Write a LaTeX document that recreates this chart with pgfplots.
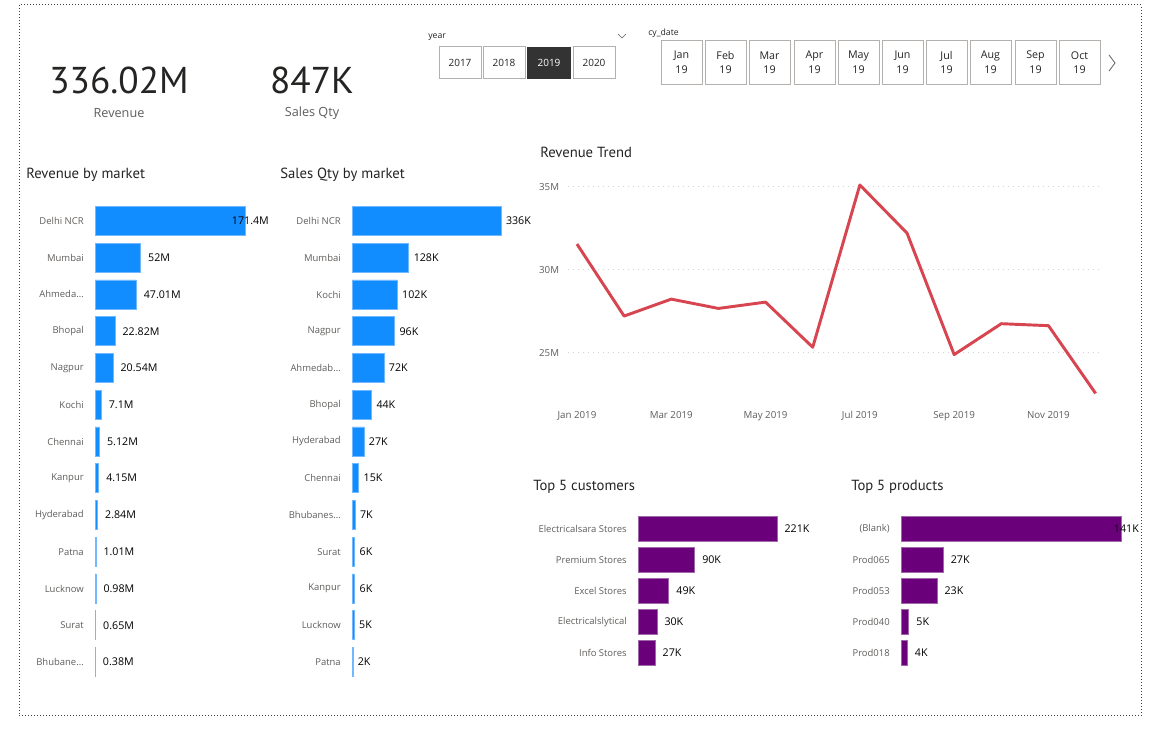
\documentclass[border=0pt]{standalone}
\usepackage{pgfplots}
\pgfplotsset{compat=1.18}
\usepackage{fontspec}
\setmainfont{Open Sans}
\newfontfamily\din{PT Sans}

\definecolor{pbblue}{HTML}{118DFF}
\definecolor{pbblueedge}{HTML}{70B8FF}
\definecolor{pbpurple}{HTML}{6B007B}
\definecolor{pbpurpleedge}{HTML}{A066AA}
\definecolor{pbred}{HTML}{D64550}
\definecolor{lblgray}{HTML}{605E5C}
\definecolor{titleblack}{HTML}{252423}
\definecolor{slicerborder}{HTML}{B3B0AD}

\pgfplotsset{
  hbars/.style={
    xbar, scale only axis, anchor=north west,
    y dir=reverse, xmin=0,
    axis line style={draw=none}, tick style={draw=none},
    xtick=\empty,
    yticklabel style={font=\fontsize{7.1}{9}\selectfont, text=lblgray, inner sep=0pt},
    yticklabel shift=4pt,
    point meta=explicit symbolic,
    every node near coord/.append style={font=\fontsize{8}{9}\selectfont, text=black,
      anchor=west, inner sep=0pt, xshift=5.5pt},
  },
  barsty/.style={fill=#1, draw=#1edge, line width=0.5pt, bar shift=0pt},
}

\begin{document}
\begin{tikzpicture}
\path[use as bounding box] (0,0) rectangle (864pt,547.5pt);
\fill[white] (0,0) rectangle (864pt,547.5pt);

% page furniture, in reference pixels (y down)
\begin{scope}[x=0.75pt, y=-0.75pt, yshift=547.5pt]
\draw[black!75, line width=0.75pt, dash pattern=on 0.75pt off 1.5pt] (19,5) rectangle (1141,716);

% KPI cards
\node[font=\din\fontsize{28}{30}\selectfont, text=titleblack] at (119,80) {336.02M};
\node[font=\fontsize{9.5}{11}\selectfont, text=lblgray] at (119,113) {Revenue};
\node[font=\din\fontsize{28}{30}\selectfont, text=titleblack] at (312,80) {847K};
\node[font=\fontsize{9.5}{11}\selectfont, text=lblgray] at (312,113) {Sales Qty};

% year slicer
\node[anchor=west, inner sep=0pt, font=\fontsize{6.5}{8}\selectfont, text=titleblack] at (428,37) {year};
\draw[lblgray, line width=0.5pt] (618,34) -- (622,38) -- (626,34);
\foreach \xa/\xb/\t in {439/481/2017, 483/525/2018, 573/615/2020} {
  \draw[slicerborder, line width=0.75pt] (\xa,47) rectangle (\xb,79);
  \node[font=\fontsize{7.5}{9}\selectfont, text=titleblack] at ({(\xa+\xb)/2},63) {\t};
}
\fill[black!80] (527,47) rectangle (571,79);
\node[font=\fontsize{7.5}{9}\selectfont, text=white] at (549,63) {2019};

% month slicer
\node[anchor=west, inner sep=0pt, font=\fontsize{6.5}{8}\selectfont, text=titleblack] at (648,33) {cy\_date};
\foreach \xa/\m in {661/Jan, 705/Feb, 749/Mar, 794/Apr, 838/May, 882/Jun, 926/Jul, 970/Aug, 1015/Sep, 1059/Oct} {
  \draw[slicerborder, line width=0.75pt] (\xa,41) rectangle ({\xa+41},85);
  \node[font=\fontsize{8}{9}\selectfont, text=titleblack] at ({\xa+20.5},56) {\m};
  \node[font=\fontsize{8}{9}\selectfont, text=titleblack] at ({\xa+20.5},70) {19};
}
\draw[lblgray, line width=0.6pt] (1109,55) -- (1115,63) -- (1109,71);

% titles
\node[anchor=west, inner sep=0pt, font=\din\fontsize{11}{13}\selectfont, text=titleblack] at (26,175) {Revenue by market};
\node[anchor=west, inner sep=0pt, font=\din\fontsize{11}{13}\selectfont, text=titleblack] at (280,175) {Sales Qty by market};
\node[anchor=west, inner sep=0pt, font=\din\fontsize{11}{13}\selectfont, text=titleblack] at (540,152) {Revenue Trend};
\node[anchor=west, inner sep=0pt, font=\din\fontsize{11}{13}\selectfont, text=titleblack] at (533,487) {Top 5 customers};
\node[anchor=west, inner sep=0pt, font=\din\fontsize{11}{13}\selectfont, text=titleblack] at (851,487) {Top 5 products};
\end{scope}

% Revenue by market
\begin{axis}[hbars, at={(71.25pt,395.55pt)}, width=131.25pt, height=358.3pt,
  xmax=200, ymin=-0.5, ymax=12.5, bar width=0.79,
  ytick={0,1,2,3,4,5,6,7,8,9,10,11,12},
  yticklabels={{Delhi NCR}, {Mumbai}, {Ahmeda…}, {Bhopal}, {Nagpur}, {Kochi}, {Chennai}, {Kanpur}, {Hyderabad}, {Patna}, {Lucknow}, {Surat}, {Bhubane…}},
  clip=false]
  \addplot[barsty=pbblue, nodes near coords,
    every node near coord/.append style={xshift=-15.5pt}] coordinates {
    (171.4,0) [171.4M]
  };
  \addplot[barsty=pbblue, nodes near coords] coordinates {
    (52,1) [52M] (47.01,2) [47.01M] (22.82,3) [22.82M] (20.54,4) [20.54M]
    (7.1,5) [7.1M] (5.12,6) [5.12M] (4.15,7) [4.15M] (2.84,8) [2.84M]
    (1.01,9) [1.01M] (0.98,10) [0.98M] (0.65,11) [0.65M] (0.38,12) [0.38M]
  };
\end{axis}

% Sales Qty by market
\begin{axis}[hbars, at={(264pt,395.55pt)}, width=133.05pt, height=358.3pt,
  xmax=400, ymin=-0.5, ymax=12.5, bar width=0.79,
  ytick={0,1,2,3,4,5,6,7,8,9,10,11,12},
  yticklabels={{Delhi NCR}, {Mumbai}, {Kochi}, {Nagpur}, {Ahmedab…}, {Bhopal}, {Hyderabad}, {Chennai}, {Bhubanes…}, {Surat}, {Kanpur}, {Lucknow}, {Patna}},
  clip=false]
  \addplot[barsty=pbblue, nodes near coords,
    every node near coord/.append style={xshift=-2pt}] coordinates {
    (336,0) [336K] (128,1) [128K] (102,2) [102K] (96,3) [96K] (72,4) [72K]
    (44,5) [44K] (27,6) [27K] (15,7) [15K] (7,8) [7K] (6,9) [6K]
    (6,10) [6K] (5,11) [5K] (2,12) [2K]
  };
\end{axis}

% Revenue Trend
\begin{axis}[scale only axis, anchor=north west, at={(426pt,414.75pt)},
  width=400.3pt, height=164.3pt,
  xmin=0.81, xmax=12.13, ymin=22.4, ymax=35.6,
  axis line style={draw=none}, tick style={draw=none},
  xtick={1,3,5,7,9,11},
  xticklabels={Jan 2019, Mar 2019, May 2019, Jul 2019, Sep 2019, Nov 2019},
  ytick={25,30,35}, yticklabels={25M,30M,35M},
  ymajorgrids, grid style={gray!35, line width=0.75pt, dash pattern=on 0.75pt off 3pt},
  xticklabel style={font=\fontsize{7.3}{9}\selectfont, text=lblgray, inner sep=0pt},
  yticklabel style={font=\fontsize{7.3}{9}\selectfont, text=lblgray, inner sep=0pt},
  xticklabel shift=11pt, yticklabel shift=6.5pt,
  clip=false]
  \addplot[pbred, line width=2.2pt, line join=round, mark=none] coordinates {
    (1,31.56) (2,27.22) (3,28.24) (4,27.68) (5,28.06) (6,25.34)
    (7,35.12) (8,32.22) (9,24.90) (10,26.76) (11,26.64) (12,22.56)
  };
\end{axis}

% Top 5 customers
\begin{axis}[hbars, at={(478.5pt,162.375pt)}, width=117.9pt, height=116.25pt,
  xmax=250, ymin=-0.5, ymax=4.5, bar width=0.8,
  ytick={0,1,2,3,4},
  yticklabels={{Electricalsara Stores}, {Premium Stores}, {Excel Stores}, {Electricalslytical}, {Info Stores}},
  clip=false]
  \addplot[barsty=pbpurple, nodes near coords] coordinates {
    (221,0) [221K] (90,1) [90K] (49,2) [49K] (30,3) [30K] (27,4) [27K]
  };
\end{axis}

% Top 5 products
\begin{axis}[hbars, at={(675.75pt,162.375pt)}, width=175.5pt, height=116.25pt,
  xmax=150, ymin=-0.5, ymax=4.5, bar width=0.8,
  ytick={0,1,2,3,4},
  yticklabels={{(Blank)}, {Prod065}, {Prod053}, {Prod040}, {Prod018}},
  clip=false]
  \addplot[barsty=pbpurple, nodes near coords,
    every node near coord/.append style={xshift=-11pt}] coordinates {
    (141,0) [141K]
  };
  \addplot[barsty=pbpurple, nodes near coords] coordinates {
    (27,1) [27K] (23,2) [23K] (5,3) [5K] (4,4) [4K]
  };
\end{axis}
\end{tikzpicture}
\end{document}
